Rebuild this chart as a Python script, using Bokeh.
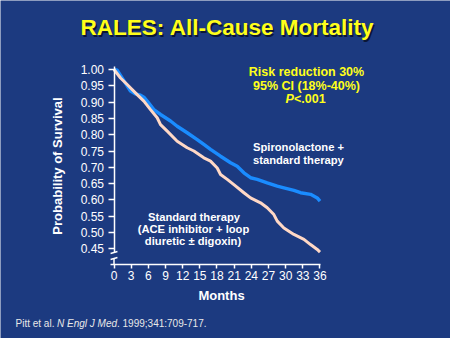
import math
from bokeh.plotting import figure
from bokeh.models import Label, FixedTicker, PrintfTickFormatter
from bokeh.embed import file_html
from bokeh.resources import INLINE

# ---- data ----
months_spiro = [0, 0.55, 2.88, 3.76, 4.63, 5.22, 5.8, 6.96, 8.13, 9.88, 11.04, 12.79,
                14.54, 15.70, 16.87, 18.62, 20.37, 21.53, 22.70, 23.86, 25.03, 26.78,
                28.53, 29.69, 31.44, 32.60, 34.35, 35.52, 36.0]
surv_spiro = [1.00, 0.998, 0.934, 0.925, 0.921, 0.915, 0.903, 0.877, 0.862, 0.842, 0.826,
              0.806, 0.785, 0.770, 0.755, 0.734, 0.714, 0.703, 0.683, 0.668, 0.663, 0.652,
              0.642, 0.637, 0.629, 0.622, 0.617, 0.606, 0.596]

months_std = [0, 1.14, 2.30, 4.05, 5.22, 6.38, 7.55, 8.13, 9.30, 11.04, 12.79, 13.96,
              15.70, 16.87, 18.04, 18.62, 19.79, 20.95, 22.70, 23.86, 25.61, 26.78,
              27.94, 28.53, 29.69, 31.44, 33.19, 34.35, 35.52, 36.0]
surv_std = [1.00, 0.974, 0.954, 0.923, 0.903, 0.877, 0.852, 0.831, 0.811, 0.780, 0.760,
            0.750, 0.729, 0.719, 0.698, 0.678, 0.663, 0.647, 0.622, 0.606, 0.591, 0.576,
            0.555, 0.535, 0.514, 0.494, 0.479, 0.463, 0.448, 0.440]

x_ticks = [0, 3, 6, 9, 12, 15, 18, 21, 24, 27, 30, 33, 36]
y_ticks = [0.45, 0.50, 0.55, 0.60, 0.65, 0.70, 0.75, 0.80, 0.85, 0.90, 0.95, 1.00]

title_text = "RALES: All-Cause Mortality"
y_label = "Probability of Survival"
x_label = "Months"
stats_lines = ["Risk reduction 30%", "95% CI (18%-40%)"]
p_italic, p_rest = "P", "<.001"
spiro_lines = ["Spironolactone +", "standard therapy"]
std_lines = ["Standard therapy", "(ACE inhibitor + loop", "diuretic \u00b1 digoxin)"]
cite_a, cite_b, cite_c = "Pitt et al. ", "N Engl J Med", ". 1999;341:709-717."

# ---- style / layout ----
BG = "#1c3a80"
WHITE = "#ffffff"
YELLOW = "#ffff1a"
BLUE = "#1a8cff"
PINK = "#ffd8c6"
FONT = "Liberation Sans"
W, H = 450, 338
# pixel geometry of the plot area inside the full-canvas frame
PX_ORIGIN_X = 113.5      # x pixel of month 0
PX_PER_MONTH = 5.722
PX_Y_TOP = 69.0          # y pixel of survival 1.00
PX_PER_UNIT = 326.0
XR = (-PX_ORIGIN_X / PX_PER_MONTH, (W - PX_ORIGIN_X) / PX_PER_MONTH)
YR = (1.0 - (H - PX_Y_TOP) / PX_PER_UNIT, 1.0 + PX_Y_TOP / PX_PER_UNIT)

AX_X0, AX_X1 = -0.61, 36.09      # extent of x-axis line
AX_Y0, AX_Y1 = 0.4018, 1.0092    # extent of y-axis line
BREAK_HI, BREAK_LO = 0.4387, 0.4202

p = figure(width=W, height=H, x_range=XR, y_range=YR,
           output_backend="svg", toolbar_location=None,
           min_border=0, min_border_left=0, min_border_right=0,
           min_border_top=0, min_border_bottom=0,
           background_fill_color=BG, border_fill_color=BG, outline_line_color=None)
p.grid.visible = False

ya = p.yaxis[0]
ya.fixed_location = 0
ya.bounds = (BREAK_HI, AX_Y1)
ya.ticker = FixedTicker(ticks=y_ticks)
ya.formatter = PrintfTickFormatter(format="%.2f")
ya.axis_line_color = WHITE
ya.axis_line_width = 1.5
ya.major_tick_in = 0
ya.major_tick_out = 6
ya.major_tick_line_color = WHITE
ya.major_tick_line_width = 1.5
ya.minor_tick_line_color = None
ya.major_label_text_color = WHITE
ya.major_label_text_font = FONT
ya.major_label_text_font_size = "12px"
ya.major_label_standoff = 4

xa = p.xaxis[0]
xa.fixed_location = AX_Y0
xa.bounds = (AX_X0, AX_X1)
xa.ticker = FixedTicker(ticks=x_ticks)
xa.axis_line_color = WHITE
xa.axis_line_width = 1.5
xa.major_tick_in = 0
xa.major_tick_out = 4
xa.major_tick_line_color = WHITE
xa.major_tick_line_width = 1.5
xa.minor_tick_line_color = None
xa.major_label_text_color = WHITE
xa.major_label_text_font = FONT
xa.major_label_text_font_size = "12px"
xa.major_label_standoff = 2

# lower stub of the y axis below the break, and break marks
p.segment(x0=[0], y0=[AX_Y0], x1=[0], y1=[BREAK_LO], line_color=WHITE, line_width=1.5)
p.segment(x0=[-0.6, -0.6], y0=[BREAK_HI - 0.003, BREAK_LO - 0.003],
          x1=[0.6, 0.6], y1=[BREAK_HI + 0.003, BREAK_LO + 0.003],
          line_color=WHITE, line_width=1.5)

# curves
p.line(months_spiro, surv_spiro, line_color=BLUE, line_width=3.4, line_join="round")
p.line(months_std, surv_std, line_color=PINK, line_width=3, line_join="round")

# ---- texts, placed in screen pixels (y measured up from the bottom) ----
def lab(text, X, Y, size, color=WHITE, style="bold", align="center", angle=0):
    p.add_layout(Label(x=X, y=H - Y, x_units="screen", y_units="screen",
                       text=text, text_font=FONT, text_font_size=size,
                       text_font_style=style, text_color=color,
                       text_align=align, text_baseline="middle", angle=angle))

lab(title_text, 228.5, 28.5, "22.5px", color="#0b1635")
lab(title_text, 227, 27, "22.5px", color=YELLOW)

lab(y_label, 57, 165.5, "13px", angle=math.pi / 2)
lab(x_label, 221, 295, "13px")

lab(stats_lines[0], 306, 71, "12.5px", color=YELLOW)
lab(stats_lines[1], 306, 85, "12.5px", color=YELLOW)
lab(p_italic, 285, 98.5, "12.5px", color=YELLOW, style="bold italic", align="left")
lab(p_rest, 293.5, 98.5, "12.5px", color=YELLOW, align="left")

lab(spiro_lines[0], 252.5, 146.5, "11.2px", align="left")
lab(spiro_lines[1], 252.5, 159, "11.2px", align="left")

lab(std_lines[0], 193.5, 216.5, "11.2px")
lab(std_lines[1], 193, 228.5, "11.2px")
lab(std_lines[2], 192.5, 240.5, "11.2px")

lab(cite_a, 15, 323, "10px", color="#e8e8e8", style="normal", align="left")
lab(cite_b, 56.5, 323, "10px", color="#e8e8e8", style="italic", align="left")
lab(cite_c, 116.5, 323, "10px", color="#e8e8e8", style="normal", align="left")

open("out.html", "w").write(file_html(p, INLINE))
